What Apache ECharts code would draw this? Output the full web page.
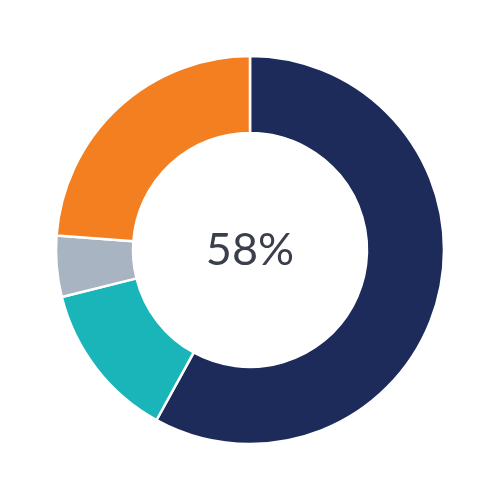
<!DOCTYPE html>
<html lang="en" style="height: 100%">
<head>
  <meta charset="utf-8">
  <title>Donut</title>
</head>
<body style="height: 100%; margin: 0; background: #fff">
  <div id="container" style="width: 500px; height: 500px"></div>
  <script src="https://cdn.jsdelivr.net/npm/echarts@6/dist/echarts.min.js"></script>
  <script>
    var names = ['A', 'B', 'C', 'D'];
    var values = [58, 13.1, 5.1, 23.8];
    var colors = ['#1c2b5a', '#1ab5b8', '#a9b4c2', '#f47f20'];
    var centerLabel = '58%';

    var chart = echarts.init(document.getElementById('container'), null, { renderer: 'canvas' });

    chart.setOption({
      animation: false,
      title: {
        text: centerLabel,
        left: 'center',
        top: 'middle',
        textStyle: {
          fontFamily: 'Lato',
          fontWeight: 'normal',
          fontSize: 45,
          color: '#3a3f4b'
        }
      },
      series: [{
        type: 'pie',
        center: ['50%', '50%'],
        radius: [117, 194],
        startAngle: 90,
        clockwise: true,
        label: { show: false },
        labelLine: { show: false },
        itemStyle: { borderColor: '#fff', borderWidth: 2.5 },
        data: values.map(function (v, i) {
          return { name: names[i], value: v, itemStyle: { color: colors[i] } };
        })
      }]
    });
  </script>
</body>
</html>
